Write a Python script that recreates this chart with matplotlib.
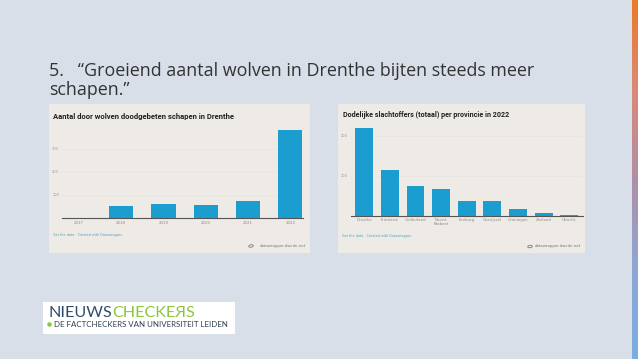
import matplotlib
matplotlib.use('Agg')
import matplotlib.pyplot as plt
import numpy as np
from matplotlib.patches import Rectangle, Ellipse
from matplotlib.colors import LinearSegmentedColormap

# data
years = ['2017', '2018', '2019', '2020', '2021', '2022']
sheep_killed = [0, 53, 62, 58, 75, 383]
left_ticks = [100, 200, 300]

provinces = ['Drenthe', 'Friesland', 'Gelderland', 'Noord-\nBrabant', 'Limburg',
             'Overijssel', 'Groningen', 'Zeeland', 'Utrecht']
victims_2022 = [437, 227, 148, 133, 75, 74, 35, 12, 5]
right_ticks = [200, 400]

W, H = 638, 359
BG = '#d8dfe9'
PANEL = '#eeebe6'
BAR = '#1c9dcf'

def fx(x):
    return x / W

def fy(y):
    return 1 - y / H

fig = plt.figure(figsize=(W / 100, H / 100), dpi=100)
fig.patch.set_facecolor(BG)

# slide title
title_kw = dict(fontsize=12.9, color='#333333', family='Open Sans', va='baseline')
fig.text(fx(49), fy(76), '5.   \u201cGroeiend aantal wolven in Drenthe bijten steeds meer', **title_kw)
fig.text(fx(49), fy(95), 'schapen.\u201d', **title_kw)

# gradient strip on the right edge
strip = fig.add_axes([fx(632), 0, fx(6), 1])
cmap = LinearSegmentedColormap.from_list('strip', ['#ec7a28', '#d98a78', '#b08fa8', '#8fa6d6', '#79afe2'])
strip.imshow(np.linspace(0, 1, 256).reshape(-1, 1), aspect='auto', cmap=cmap)
strip.axis('off')


def panel(x0, y0, x1, y1, color=PANEL):
    fig.patches.append(Rectangle((fx(x0), fy(y1)), fx(x1 - x0), (y1 - y0) / H,
                                 transform=fig.transFigure, facecolor=color,
                                 edgecolor='none', zorder=-1))


def link_icon(x, y):
    fig.patches.append(Ellipse((fx(x), fy(y)), fx(5), 2.2 / H, angle=45,
                               transform=fig.transFigure, facecolor='none',
                               edgecolor='#777777', linewidth=0.6))


def style_axes(ax, ticks):
    ax.set_zorder(2)
    ax.set_facecolor('none')
    for s in ['top', 'right', 'left']:
        ax.spines[s].set_visible(False)
    ax.spines['bottom'].set_color('#555555')
    ax.spines['bottom'].set_linewidth(0.8)
    ax.set_yticks(ticks)
    ax.set_yticklabels([str(t) for t in ticks], fontsize=2.6, color='#9a9a9a')
    ax.tick_params(axis='both', length=0, pad=2)
    ax.tick_params(axis='x', labelsize=2.8, labelcolor='#8a8a8a', pad=2)
    ax.grid(axis='y', color='#e6e3de', linewidth=0.4)
    ax.set_axisbelow(True)


# left chart
panel(49, 104, 310, 253)
fig.text(fx(53), fy(116), 'Aantal door wolven doodgebeten schapen in Drenthe',
         fontsize=5.5, fontweight='bold', family='Roboto', color='#222222', va='center')
axl = fig.add_axes([fx(62), fy(218), fx(241), 90 / H])
axl.bar(range(len(years)), sheep_killed, width=0.57, color=BAR)
axl.set_xticks(range(len(years)))
axl.set_xticklabels(years)
axl.set_xlim(-0.4, 5.3)
axl.set_ylim(0, 391)
style_axes(axl, left_ticks)
fig.text(fx(53), fy(235), 'Get the data \u00b7 Created with Datawrapper', fontsize=2.4,
         color='#4aa3c8', va='center')
link_icon(251, 246)
fig.text(fx(306), fy(246), 'datawrapper.dwcdn.net', fontsize=2.8, color='#777777',
         ha='right', va='center')

# right chart
panel(338, 104, 585, 253)
fig.text(fx(343), fy(115), 'Dodelijke slachtoffers (totaal) per provincie in 2022',
         fontsize=5.15, fontweight='bold', family='Roboto', color='#222222', va='center')
axr = fig.add_axes([fx(351), fy(215.7), fx(232), 90.7 / H])
axr.bar(range(len(provinces)), victims_2022, width=0.70, color=BAR)
axr.set_xticks(range(len(provinces)))
axr.set_xticklabels(provinces, linespacing=1.0)
axr.set_xlim(-0.52, 8.54)
axr.set_ylim(0, 453)
style_axes(axr, right_ticks)
fig.text(fx(342), fy(236), 'Get the data \u00b7 Created with Datawrapper', fontsize=2.4,
         color='#4aa3c8', va='center')
link_icon(530, 246.5)
fig.text(fx(581), fy(246.5), 'datawrapper.dwcdn.net', fontsize=2.8, color='#777777',
         ha='right', va='center')

# logo
panel(43, 302, 235, 334, color='white')
t1 = fig.text(fx(48), fy(317), 'NIEUWS', fontsize=11.6, color='#2f4d6c', family='Lato',
              va='baseline')
fig.canvas.draw()
bb = t1.get_window_extent()
fig.text(bb.x1 / W, fy(317), 'CHECKE\u042fS', fontsize=11.6, color='#8cc63e',
         family='Lato', va='baseline')
fig.patches.append(Ellipse((fx(49.5), fy(324.5)), fx(4.5), 4.5 / H, transform=fig.transFigure,
                           facecolor='#8cc63e', edgecolor='none'))
fig.text(fx(54), fy(324.5), 'DE FACTCHECKERS VAN UNIVERSITEIT LEIDEN', fontsize=5.7,
         color='#2f3e4e', family='Lato', va='center')

fig.savefig('out.png', dpi=100, facecolor=BG)
